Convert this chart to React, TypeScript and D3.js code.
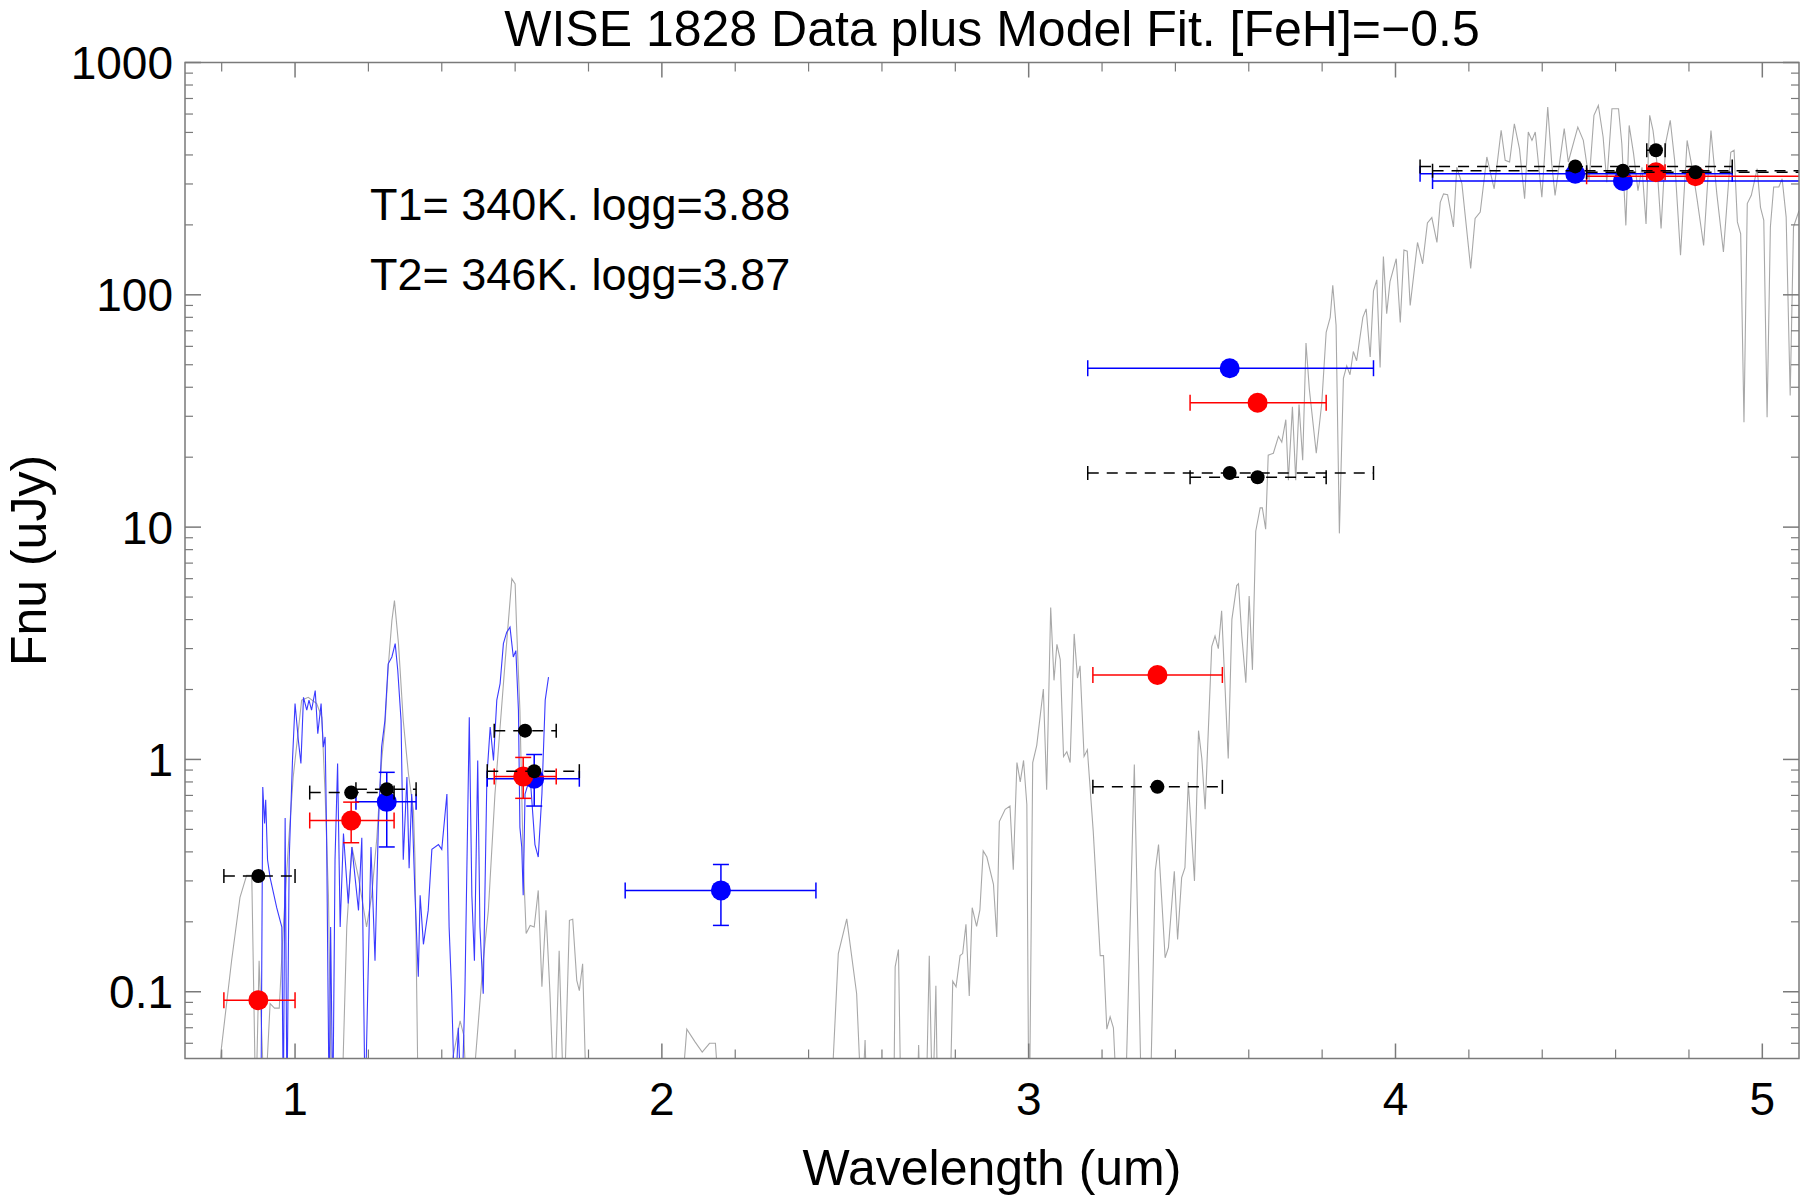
import React from "react";
import * as d3 from "d3";

const WIDTH = 1800;
const HEIGHT = 1198;
const Plot = { left: 185, right: 1799, top: 62.5, bottom: 1058.5 };
const FONT = "'Liberation Sans', Arial, Helvetica, sans-serif";
const AXIS_GRAY = "#7a7a7a";

// model spectrum (wavelength um, flux uJy)
const modelSpectrum: [number, number][] = [
  [0.7, 0.02], [0.79, 0.03], [0.798, 0.055], [0.827, 0.136], [0.85, 0.255], [0.868, 0.317],
  [0.882, 0.317], [0.893, 0.03], [0.902, 0.136], [0.917, 0.03], [0.932, 0.089], [0.944, 0.085],
  [0.957, 0.085], [0.968, 0.19], [0.982, 0.43], [0.995, 0.84], [1.018, 1.8], [1.036, 1.85],
  [1.059, 1.74], [1.073, 1.52], [1.082, 0.71], [1.091, 0.26], [1.1, 0.03], [1.127, 0.03],
  [1.141, 0.19], [1.155, 0.42], [1.173, 0.31], [1.195, 0.19], [1.209, 0.26], [1.223, 0.46],
  [1.236, 0.99], [1.245, 1.38], [1.254, 2.5], [1.264, 3.96], [1.271, 4.83], [1.282, 3.15],
  [1.295, 1.47], [1.309, 0.87], [1.323, 0.6], [1.327, 0.37], [1.336, 0.03], [1.4, 0.03],
  [1.45, 0.075], [1.46, 0.065], [1.47, 0.03], [1.48, 0.03], [1.513, 0.136], [1.527, 0.224],
  [1.545, 0.71], [1.559, 1.38], [1.573, 2.67], [1.591, 6.0], [1.6, 5.7], [1.604, 3.71],
  [1.613, 1.63], [1.622, 0.37], [1.63, 0.178], [1.641, 0.193], [1.652, 0.19], [1.663, 0.273],
  [1.673, 0.105], [1.684, 0.224], [1.695, 0.098], [1.707, 0.03], [1.72, 0.15], [1.733, 0.03],
  [1.748, 0.203], [1.757, 0.205], [1.768, 0.112], [1.775, 0.101], [1.784, 0.132], [1.795, 0.03],
  [2.05, 0.03], [2.068, 0.069], [2.09, 0.061], [2.11, 0.055], [2.13, 0.06], [2.146, 0.06],
  [2.159, 0.03], [2.46, 0.03], [2.481, 0.146], [2.504, 0.206], [2.531, 0.098], [2.545, 0.03],
  [2.554, 0.062], [2.56, 0.03], [2.632, 0.03], [2.636, 0.128], [2.645, 0.152], [2.652, 0.03],
  [2.695, 0.03], [2.7, 0.059], [2.705, 0.03], [2.72, 0.03], [2.729, 0.143], [2.738, 0.03],
  [2.747, 0.106], [2.752, 0.03], [2.785, 0.03], [2.793, 0.111], [2.802, 0.105], [2.813, 0.143],
  [2.82, 0.146], [2.829, 0.195], [2.838, 0.096], [2.846, 0.23], [2.858, 0.191], [2.867, 0.225],
  [2.876, 0.404], [2.886, 0.38], [2.904, 0.29], [2.913, 0.172], [2.92, 0.54], [2.936, 0.61],
  [2.949, 0.63], [2.958, 0.335], [2.968, 0.97], [2.977, 0.8], [2.986, 0.99], [2.995, 0.64],
  [3.001, 0.02], [3.011, 0.97], [3.022, 1.15], [3.04, 2.01], [3.049, 0.74], [3.06, 4.51],
  [3.069, 2.19], [3.077, 3.13], [3.086, 2.69], [3.095, 1.03], [3.104, 1.08], [3.113, 0.97],
  [3.124, 3.47], [3.133, 2.24], [3.14, 2.53], [3.151, 1.03], [3.16, 1.1], [3.176, 0.49],
  [3.195, 0.143], [3.204, 0.143], [3.213, 0.069], [3.222, 0.078], [3.231, 0.07], [3.242, 0.03],
  [3.263, 0.03], [3.288, 0.95], [3.308, 0.03], [3.331, 0.03], [3.345, 0.33], [3.354, 0.43],
  [3.372, 0.14], [3.381, 0.155], [3.397, 0.33], [3.406, 0.168], [3.417, 0.31], [3.426, 0.342],
  [3.435, 0.8], [3.452, 0.3], [3.463, 1.33], [3.472, 1.01], [3.481, 0.61], [3.499, 3.06],
  [3.508, 3.4], [3.517, 3.0], [3.526, 4.36], [3.544, 1.01], [3.554, 4.01], [3.567, 5.6],
  [3.572, 5.7], [3.581, 3.4], [3.592, 2.14], [3.601, 5.05], [3.61, 2.43], [3.619, 9.6],
  [3.631, 12.1], [3.637, 12.1], [3.646, 9.8], [3.653, 20.4], [3.667, 20.8], [3.681, 24.6],
  [3.69, 23.2], [3.701, 29], [3.708, 15.9], [3.719, 33], [3.728, 15.9], [3.737, 33.7],
  [3.747, 19.4], [3.756, 62], [3.765, 39.4], [3.784, 20.8], [3.799, 34.2], [3.811, 69],
  [3.822, 80], [3.829, 110], [3.838, 74], [3.847, 9.4], [3.858, 43.7], [3.867, 49.5],
  [3.876, 45.3], [3.885, 57], [3.894, 52], [3.911, 80], [3.92, 87], [3.931, 54], [3.94, 104],
  [3.949, 116], [3.958, 48.7], [3.967, 146], [3.976, 83], [3.985, 114], [4.002, 143],
  [4.013, 76], [4.023, 156], [4.032, 154], [4.04, 90], [4.06, 168], [4.074, 136], [4.087, 204],
  [4.099, 215], [4.113, 168], [4.122, 250], [4.131, 272], [4.142, 270], [4.158, 196],
  [4.167, 354], [4.181, 301], [4.205, 130], [4.217, 213], [4.231, 227], [4.249, 392],
  [4.269, 286], [4.288, 510], [4.299, 379], [4.311, 373], [4.324, 545], [4.338, 425],
  [4.352, 259], [4.362, 502], [4.372, 462], [4.381, 502], [4.399, 263], [4.415, 643],
  [4.426, 366], [4.435, 268], [4.46, 519], [4.471, 373], [4.497, 527], [4.512, 462],
  [4.528, 311], [4.541, 592], [4.553, 653], [4.566, 478], [4.576, 305], [4.59, 632],
  [4.608, 632], [4.617, 447], [4.628, 199], [4.637, 536], [4.649, 405], [4.661, 281],
  [4.672, 354], [4.683, 202], [4.693, 592], [4.702, 510], [4.712, 379], [4.724, 193],
  [4.737, 454], [4.749, 564], [4.761, 379], [4.777, 148], [4.795, 462], [4.81, 343],
  [4.822, 259], [4.84, 163], [4.86, 510], [4.876, 272], [4.894, 153], [4.914, 411],
  [4.923, 419], [4.932, 206], [4.941, 183], [4.95, 28.3], [4.959, 247], [4.97, 268],
  [4.986, 349], [4.995, 238], [5.004, 209], [5.013, 29.7], [5.022, 196], [5.031, 291],
  [5.045, 291], [5.054, 316], [5.065, 216], [5.076, 36.9], [5.085, 196], [5.1, 230],
];

// observed near-IR spectrum
const obsSpectrum: [number, number][] = [
  [0.907, 0.03], [0.912, 0.76], [0.917, 0.53], [0.92, 0.67], [0.925, 0.37], [0.932, 0.31],
  [0.95, 0.23], [0.964, 0.19], [0.968, 0.03], [0.973, 0.56], [0.978, 0.03], [0.984, 0.37],
  [0.993, 0.99], [1.0, 1.74], [1.009, 1.21], [1.016, 0.96], [1.023, 1.85], [1.032, 1.63],
  [1.038, 1.8], [1.045, 1.63], [1.055, 1.98], [1.062, 1.29], [1.071, 1.74], [1.077, 1.13],
  [1.082, 1.25], [1.086, 0.48], [1.093, 0.03], [1.097, 0.19], [1.103, 0.03], [1.109, 0.37],
  [1.116, 0.96], [1.123, 0.19], [1.132, 0.48], [1.145, 0.24], [1.155, 0.42], [1.173, 0.224],
  [1.182, 0.46], [1.191, 0.03], [1.198, 0.098], [1.207, 0.42], [1.218, 0.136], [1.227, 0.51],
  [1.236, 1.13], [1.245, 1.47], [1.254, 2.58], [1.264, 2.76], [1.273, 3.15], [1.28, 2.42],
  [1.289, 1.47], [1.295, 0.37], [1.305, 0.84], [1.311, 0.34], [1.318, 0.71], [1.327, 0.26],
  [1.336, 0.116], [1.341, 0.26], [1.35, 0.16], [1.363, 0.224], [1.373, 0.41], [1.391, 0.43],
  [1.4, 0.41], [1.414, 0.71], [1.42, 0.19], [1.427, 0.098], [1.436, 0.03], [1.445, 0.07],
  [1.454, 0.03], [1.463, 0.098], [1.475, 1.52], [1.482, 0.26], [1.489, 0.136], [1.498, 0.99],
  [1.504, 0.19], [1.513, 0.098], [1.523, 0.84], [1.532, 1.38], [1.541, 0.99], [1.55, 1.8],
  [1.559, 2.12], [1.568, 3.15], [1.577, 3.53], [1.586, 3.71], [1.595, 2.76], [1.602, 2.94],
  [1.609, 1.63], [1.613, 0.51], [1.618, 0.42], [1.622, 0.26], [1.627, 0.71], [1.641, 0.84],
  [1.654, 0.43], [1.663, 0.38], [1.673, 0.71], [1.682, 1.8], [1.691, 2.26],
];

type Pt = { w: number; f: number; wLo: number; wHi: number; fLo?: number; fHi?: number };

const bluePoints: Pt[] = [
  { w: 1.25, f: 0.657, wLo: 1.166, wHi: 1.33, fLo: 0.42, fHi: 0.88 },
  { w: 1.652, f: 0.826, wLo: 1.524, wHi: 1.775, fLo: 0.63, fHi: 1.05 },
  { w: 2.161, f: 0.273, wLo: 1.9, wHi: 2.42, fLo: 0.193, fHi: 0.353 },
  { w: 3.548, f: 48.3, wLo: 3.161, wHi: 3.94 },
  { w: 4.49, f: 332, wLo: 4.067, wHi: 4.918 },
  { w: 4.62, f: 309, wLo: 4.101, wHi: 5.14 },
];

const redPoints: Pt[] = [
  { w: 0.9, f: 0.092, wLo: 0.806, wHi: 1.0 },
  { w: 1.153, f: 0.546, wLo: 1.04, wHi: 1.27, fLo: 0.438, fHi: 0.655 },
  { w: 1.622, f: 0.845, wLo: 1.543, wHi: 1.712, fLo: 0.68, fHi: 1.02 },
  { w: 3.351, f: 2.31, wLo: 3.175, wHi: 3.528 },
  { w: 3.624, f: 34.3, wLo: 3.44, wHi: 3.811 },
  { w: 4.71, f: 337, wLo: 4.685, wHi: 4.735 },
  { w: 4.818, f: 324, wLo: 4.521, wHi: 5.115 },
];

const blackPoints: Pt[] = [
  { w: 0.9, f: 0.315, wLo: 0.806, wHi: 1.0 },
  { w: 1.153, f: 0.72, wLo: 1.04, wHi: 1.27 },
  { w: 1.25, f: 0.745, wLo: 1.166, wHi: 1.33 },
  { w: 1.627, f: 1.33, wLo: 1.543, wHi: 1.712 },
  { w: 1.652, f: 0.89, wLo: 1.524, wHi: 1.775 },
  { w: 3.351, f: 0.762, wLo: 3.175, wHi: 3.528 },
  { w: 3.548, f: 17.1, wLo: 3.161, wHi: 3.94 },
  { w: 3.624, f: 16.4, wLo: 3.44, wHi: 3.811 },
  { w: 4.49, f: 357, wLo: 4.067, wHi: 4.918 },
  { w: 4.62, f: 342, wLo: 4.101, wHi: 5.14 },
  { w: 4.71, f: 419, wLo: 4.685, wHi: 4.735 },
  { w: 4.818, f: 337, wLo: 4.521, wHi: 5.115 },
];

const xMajor = [1, 2, 3, 4, 5];
const yMajor = [0.1, 1, 10, 100, 1000];
const yLabels = ["0.1", "1", "10", "100", "1000"];
const annotations = ["T1= 340K. logg=3.88", "T2= 346K. logg=3.87"];
const title = "WISE 1828 Data plus Model Fit. [FeH]=\u22120.5";

const x = d3.scaleLinear().domain([0.7, 5.1]).range([Plot.left, Plot.right]);
const y = d3.scaleLog().domain([0.0516, 1000]).range([Plot.bottom, Plot.top]);

const xMinor = d3.range(8, 51, 2).map((v) => v / 10).filter((v) => !xMajor.includes(v));
const yMinor: number[] = [];
[-2, -1, 0, 1, 2].forEach((e) => {
  for (let k = 2; k <= 9; k++) {
    const v = k * Math.pow(10, e);
    if (v > 0.0516 && v < 1000) yMinor.push(v);
  }
});

const spectrumLine = d3
  .line<[number, number]>()
  .x((d) => x(d[0]))
  .y((d) => y(d[1]));

const ErrorPoints = ({ pts, color, r, dashed }: { pts: Pt[]; color: string; r: number; dashed?: boolean }) => (
  <g>
    {pts.map((p, i) => {
      const cy = y(p.f);
      const cap = dashed ? 7 : 8;
      return (
        <g key={i}>
          <line x1={x(p.wLo)} x2={x(p.wHi)} y1={cy} y2={cy} stroke={color} strokeWidth={1.5}
            strokeDasharray={dashed ? "11,8" : undefined} />
          <line x1={x(p.wLo)} x2={x(p.wLo)} y1={cy - cap} y2={cy + cap} stroke={color} strokeWidth={1.5} />
          <line x1={x(p.wHi)} x2={x(p.wHi)} y1={cy - cap} y2={cy + cap} stroke={color} strokeWidth={1.5} />
          {p.fLo !== undefined && p.fHi !== undefined && (
            <g>
              <line x1={x(p.w)} x2={x(p.w)} y1={y(p.fLo)} y2={y(p.fHi)} stroke={color} strokeWidth={1.5} />
              <line x1={x(p.w) - 8} x2={x(p.w) + 8} y1={y(p.fLo)} y2={y(p.fLo)} stroke={color} strokeWidth={1.5} />
              <line x1={x(p.w) - 8} x2={x(p.w) + 8} y1={y(p.fHi)} y2={y(p.fHi)} stroke={color} strokeWidth={1.5} />
            </g>
          )}
          <circle cx={x(p.w)} cy={cy} r={r} fill={color} />
        </g>
      );
    })}
  </g>
);

const App = () => {
  return (
    <svg width={WIDTH} height={HEIGHT} style={{ position: "absolute", left: 0, top: 0, background: "#fff" }}
      fontFamily={FONT}>
      <defs>
        <clipPath id="plotClip">
          <rect x={Plot.left} y={Plot.top} width={Plot.right - Plot.left} height={Plot.bottom - Plot.top} />
        </clipPath>
      </defs>
      <rect x={0} y={0} width={WIDTH} height={HEIGHT} fill="#fff" />

      <g clipPath="url(#plotClip)">
        <path d={spectrumLine(modelSpectrum) || ""} fill="none" stroke="#a8a8a8" strokeWidth={1.1} />
        <path d={spectrumLine(obsSpectrum) || ""} fill="none" stroke="#3a3aff" strokeWidth={1.1} />
        <ErrorPoints pts={bluePoints} color="#0000ff" r={10} />
        <ErrorPoints pts={redPoints} color="#ff0000" r={10} />
        <ErrorPoints pts={blackPoints} color="#000000" r={7} dashed />
      </g>

      {/* frame */}
      <rect x={Plot.left} y={Plot.top} width={Plot.right - Plot.left} height={Plot.bottom - Plot.top}
        fill="none" stroke={AXIS_GRAY} strokeWidth={1.5} />

      {/* x ticks, bottom and top */}
      {xMajor.map((v) => (
        <g key={"xM" + v}>
          <line x1={x(v)} x2={x(v)} y1={Plot.bottom} y2={Plot.bottom - 15} stroke={AXIS_GRAY} strokeWidth={1.5} />
          <line x1={x(v)} x2={x(v)} y1={Plot.top} y2={Plot.top + 15} stroke={AXIS_GRAY} strokeWidth={1.5} />
          <text x={x(v)} y={1115} textAnchor="middle" fontSize={46}>{v}</text>
        </g>
      ))}
      {xMinor.map((v) => (
        <g key={"xm" + v}>
          <line x1={x(v)} x2={x(v)} y1={Plot.bottom} y2={Plot.bottom - 9} stroke={AXIS_GRAY} strokeWidth={1.2} />
          <line x1={x(v)} x2={x(v)} y1={Plot.top} y2={Plot.top + 9} stroke={AXIS_GRAY} strokeWidth={1.2} />
        </g>
      ))}

      {/* y ticks, left and right */}
      {yMajor.map((v, i) => (
        <g key={"yM" + v}>
          <line x1={Plot.left} x2={Plot.left + 16} y1={y(v)} y2={y(v)} stroke={AXIS_GRAY} strokeWidth={1.5} />
          <line x1={Plot.right} x2={Plot.right - 16} y1={y(v)} y2={y(v)} stroke={AXIS_GRAY} strokeWidth={1.5} />
          <text x={Plot.left - 12} y={y(v)} dy="0.36em" textAnchor="end" fontSize={46}>{yLabels[i]}</text>
        </g>
      ))}
      {yMinor.map((v) => (
        <g key={"ym" + v}>
          <line x1={Plot.left} x2={Plot.left + 8} y1={y(v)} y2={y(v)} stroke={AXIS_GRAY} strokeWidth={1.2} />
          <line x1={Plot.right} x2={Plot.right - 8} y1={y(v)} y2={y(v)} stroke={AXIS_GRAY} strokeWidth={1.2} />
        </g>
      ))}

      {/* annotations */}
      {annotations.map((t, i) => (
        <text key={t} x={370} y={220 + i * 70} fontSize={45}>{t}</text>
      ))}

      {/* titles */}
      <text x={(Plot.left + Plot.right) / 2} y={46} textAnchor="middle" fontSize={50}>{title}</text>
      <text x={(Plot.left + Plot.right) / 2} y={1185} textAnchor="middle" fontSize={50}>Wavelength (um)</text>
      <text transform={`translate(46, ${(Plot.top + Plot.bottom) / 2}) rotate(-90)`} textAnchor="middle" fontSize={50}>
        Fnu (uJy)
      </text>
    </svg>
  );
};

export default App;
